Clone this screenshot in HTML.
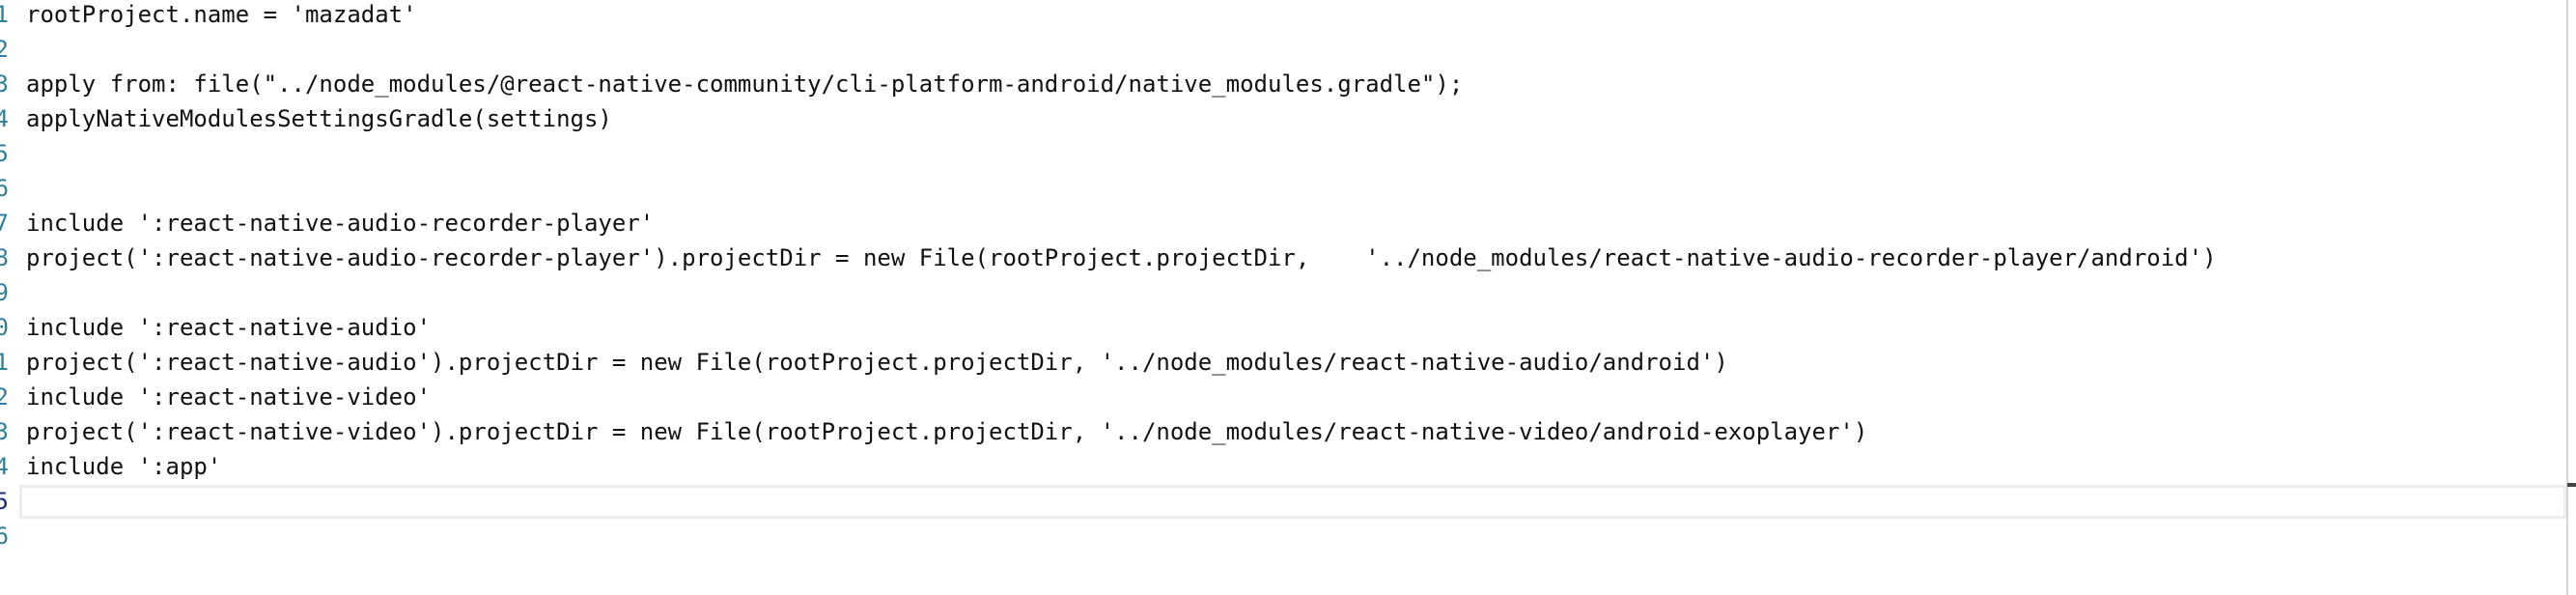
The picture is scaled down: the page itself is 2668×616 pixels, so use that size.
<!DOCTYPE html>
<html><head><meta charset="utf-8"><style>
html,body{margin:0;padding:0;background:#fff;width:2668px;height:616px;overflow:hidden;position:relative}
.l{position:absolute;left:27px;height:36px;line-height:36px;font-family:"DejaVu Sans Mono","Liberation Mono",monospace;font-size:24px;color:#111;white-space:pre}
.n{position:absolute;right:2659px;height:36px;line-height:36px;font-family:"DejaVu Sans Mono","Liberation Mono",monospace;font-size:24px;color:#2f7f9f;text-align:right;white-space:pre}
#cur{position:absolute;left:20px;top:502px;width:2638px;height:35px;box-sizing:border-box;border:3px solid #ececec;}
#vl{position:absolute;left:2658px;top:0;width:2px;height:616px;background:#d4d4d4}
#mk{position:absolute;left:2659px;top:500px;width:9px;height:4px;background:#444}
</style></head><body>
<div id="cur"></div>
<div id="vl"></div><div id="mk"></div>
<div class="n" style="top:-3px">1</div><div class="l" style="top:-3px">rootProject.name = 'mazadat'</div>
<div class="n" style="top:33px">2</div>
<div class="n" style="top:69px">3</div><div class="l" style="top:69px">apply from: file("../node_modules/@react-native-community/cli-platform-android/native_modules.gradle");</div>
<div class="n" style="top:105px">4</div><div class="l" style="top:105px">applyNativeModulesSettingsGradle(settings)</div>
<div class="n" style="top:141px">5</div>
<div class="n" style="top:177px">6</div>
<div class="n" style="top:213px">7</div><div class="l" style="top:213px">include ':react-native-audio-recorder-player'</div>
<div class="n" style="top:249px">8</div><div class="l" style="top:249px">project(':react-native-audio-recorder-player').projectDir = new File(rootProject.projectDir,    '../node_modules/react-native-audio-recorder-player/android')</div>
<div class="n" style="top:285px">9</div>
<div class="n" style="top:321px">10</div><div class="l" style="top:321px">include ':react-native-audio'</div>
<div class="n" style="top:357px">11</div><div class="l" style="top:357px">project(':react-native-audio').projectDir = new File(rootProject.projectDir, '../node_modules/react-native-audio/android')</div>
<div class="n" style="top:393px">12</div><div class="l" style="top:393px">include ':react-native-video'</div>
<div class="n" style="top:429px">13</div><div class="l" style="top:429px">project(':react-native-video').projectDir = new File(rootProject.projectDir, '../node_modules/react-native-video/android-exoplayer')</div>
<div class="n" style="top:465px">14</div><div class="l" style="top:465px">include ':app'</div>
<div class="n" style="top:501px;color:#1c2f7a">15</div>
<div class="n" style="top:537px">16</div>
</body></html>
